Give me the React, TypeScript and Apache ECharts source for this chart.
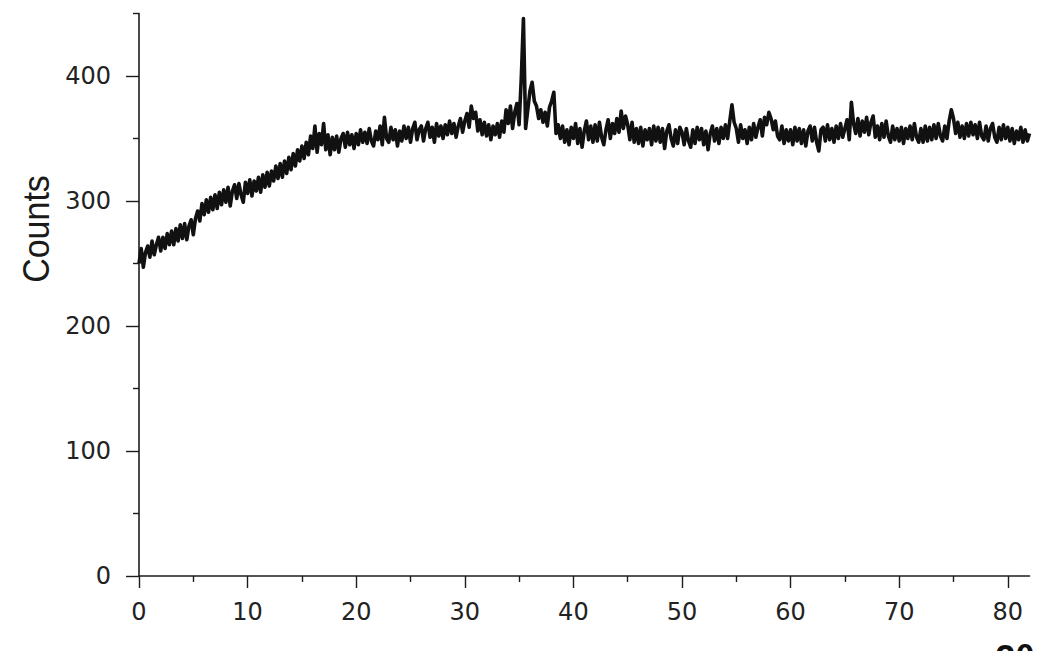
import React, { useEffect, useRef } from "react";
import * as echarts from "echarts";

// 2θ grid: 0 .. 82 degrees, step 0.2
const STEP = 0.2;
const counts: number[] = [
  // 0
  250, 262, 247, 259, 264, 255, 268, 257, 265, 271,
  260, 271, 262, 274, 265, 276, 265, 278, 268, 281,
  270, 282, 269, 280, 285, 273, 286, 292, 284, 298,
  289, 301, 291, 303, 293, 305, 294, 307, 297, 309,
  299, 311, 296, 308, 313, 302, 314, 305, 299, 315,
  // 10
  306, 317, 304, 316, 308, 319, 307, 321, 311, 323,
  312, 324, 316, 328, 318, 330, 319, 332, 322, 335,
  325, 338, 328, 341, 332, 344, 334, 347, 337, 352,
  342, 360, 339, 354, 345, 362, 341, 353, 337, 351,
  341, 352, 339, 350, 354, 343, 355, 345, 353, 342,
  // 20
  354, 345, 357, 347, 355, 346, 358, 348, 344, 356,
  349, 360, 345, 367, 350, 347, 359, 349, 357, 344,
  356, 348, 360, 350, 359, 347, 358, 363, 349, 357,
  360, 348, 358, 363, 351, 359, 347, 362, 352, 360,
  350, 361, 353, 364, 354, 362, 351, 360, 366, 355,
  // 30
  364, 370, 359, 376, 366, 371, 356, 365, 353, 363,
  352, 361, 349, 360, 353, 362, 351, 364, 355, 373,
  362, 376, 358, 371, 378, 361, 398, 446, 358, 373,
  388, 395, 380, 376, 366, 373, 363, 371, 360, 375,
  380, 387, 354, 361, 350, 360, 347, 357, 345, 359,
  // 40
  350, 362, 346, 358, 343, 356, 364, 349, 360, 347,
  361, 348, 363, 351, 345, 357, 365, 350, 362, 354,
  366, 355, 372, 358, 368, 361, 349, 363, 347, 358,
  346, 359, 344, 357, 349, 358, 345, 360, 348, 359,
  347, 358, 342, 356, 361, 350, 344, 357, 346, 359,
  // 50
  355, 345, 358, 348, 343, 357, 346, 359, 349, 358,
  345, 356, 341, 354, 360, 348, 358, 346, 359, 350,
  361, 350, 364, 377, 363, 358, 347, 361, 350, 357,
  346, 359, 349, 362, 351, 359, 365, 352, 367, 361,
  371, 366, 357, 364, 352, 349, 360, 346, 357, 348,
  // 60
  357, 345, 359, 348, 358, 346, 357, 344, 356, 360,
  348, 359, 347, 340, 357, 359, 348, 361, 349, 358,
  347, 360, 350, 362, 351, 358, 365, 349, 379, 362,
  354, 366, 352, 364, 355, 367, 353, 363, 368, 351,
  360, 349, 362, 351, 364, 352, 347, 360, 349, 358,
  // 70
  348, 359, 346, 358, 350, 360, 349, 362, 351, 347,
  358, 347, 360, 348, 359, 349, 361, 350, 362, 352,
  348, 360, 350, 364, 373, 366, 354, 363, 351, 360,
  350, 362, 352, 363, 353, 361, 350, 363, 352, 349,
  360, 348, 358, 362, 351, 347, 359, 349, 361, 350,
  // 80
  359, 348, 358, 346, 356, 349, 359, 347, 357, 348,
  354,
];

const xMajorTicks = [0, 10, 20, 30, 40, 50, 60, 70, 80];
const xMinorTicks = [5, 15, 25, 35, 45, 55, 65, 75];
const yMajorTicks = [0, 100, 200, 300, 400];
const yMinorTicks = [50, 150, 250, 350, 450];

const X_MAX = 82;
const Y_MAX = 450;
const AXIS_COLOR = "#1c1c1c";

export default function App() {
  const ref = useRef<HTMLDivElement>(null);

  useEffect(() => {
    if (!ref.current) return;
    const chart = echarts.init(ref.current, undefined, { renderer: "svg" });
    const data = counts.map((c, i) => [+(i * STEP).toFixed(2), c]);

    const labelStyle = {
      color: "#222",
      fontFamily: "DejaVu Sans",
      fontSize: 24,
    };

    chart.setOption({
      animation: false,
      backgroundColor: "#fff",
      grid: { left: 139, right: 30.5, top: 13.5, bottom: 75, containLabel: false },
      xAxis: [
        {
          type: "value",
          min: 0,
          max: X_MAX,
          position: "bottom",
          axisLine: { show: true, lineStyle: { color: AXIS_COLOR, width: 1.6 } },
          axisTick: {
            show: true,
            length: 12,
            customValues: xMajorTicks,
            lineStyle: { color: AXIS_COLOR, width: 1.4 },
          },
          axisLabel: { ...labelStyle, margin: 24, customValues: xMajorTicks },
          splitLine: { show: false },
        },
        {
          type: "value",
          min: 0,
          max: X_MAX,
          position: "bottom",
          axisLine: { show: false },
          axisTick: {
            show: true,
            length: 6,
            customValues: xMinorTicks,
            lineStyle: { color: AXIS_COLOR, width: 1.4 },
          },
          axisLabel: { show: false },
          splitLine: { show: false },
        },
      ],
      yAxis: [
        {
          type: "value",
          min: 0,
          max: Y_MAX,
          position: "left",
          axisLine: { show: true, lineStyle: { color: AXIS_COLOR, width: 1.6 } },
          axisTick: {
            show: true,
            length: 13,
            customValues: yMajorTicks,
            lineStyle: { color: AXIS_COLOR, width: 1.4 },
          },
          axisLabel: { ...labelStyle, margin: 28, customValues: yMajorTicks },
          splitLine: { show: false },
        },
        {
          type: "value",
          min: 0,
          max: Y_MAX,
          position: "left",
          axisLine: { show: false },
          axisTick: {
            show: true,
            length: 6,
            customValues: yMinorTicks,
            lineStyle: { color: AXIS_COLOR, width: 1.4 },
          },
          axisLabel: { show: false },
          splitLine: { show: false },
        },
      ],
      series: [
        {
          type: "line",
          xAxisIndex: 0,
          yAxisIndex: 0,
          data,
          showSymbol: false,
          symbol: "none",
          lineStyle: { color: "#111", width: 3.6, join: "round" },
          silent: true,
        },
      ],
      graphic: [
        {
          type: "text",
          x: 36,
          y: 229,
          rotation: Math.PI / 2,
          scaleY: 1.1,
          style: {
            text: "Counts",
            fill: "#1a1a1a",
            font: '34px "Liberation Sans", Arial, sans-serif',
            textAlign: "center",
            textVerticalAlign: "middle",
          },
        },
        {
          type: "text",
          x: 1015,
          y: 640,
          style: {
            text: "2θ",
            fill: "#111",
            font: 'bold 36px "Liberation Sans", Arial, sans-serif',
            textAlign: "center",
            textVerticalAlign: "top",
          },
        },
      ],
    });

    return () => chart.dispose();
  }, []);

  return (
    <div
      ref={ref}
      style={{ position: "fixed", left: 0, top: 0, width: 1060, height: 651 }}
    />
  );
}
